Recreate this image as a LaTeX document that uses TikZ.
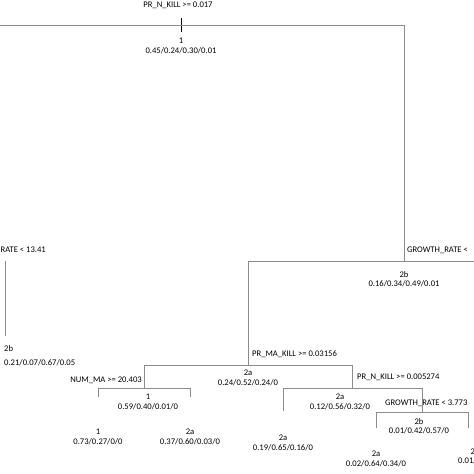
\documentclass[tikz,border=0pt]{standalone}
\usepackage{fontspec}
\setmainfont{Carlito}
\usetikzlibrary{positioning}
\tikzset{
    split/.style = {
        draw=black!45,
        line width=0.9pt
    },
    rule/.style = {
        font=\fontsize{8.6}{9.6}\selectfont,
        inner sep=1pt
    },
    leaf/.style = {
        font=\fontsize{8.6}{9.6}\selectfont,
        align=center,
        inner sep=1pt
    },
}
\begin{document}
\begin{tikzpicture}[x=1pt,y=-1pt]
    \useasboundingbox (0,0) rectangle (474,474);
    \clip (0,0) rectangle (474,474);

    % root
    \node[rule] (rroot) at (178,5) {PR\_N\_KILL >= 0.017};
    \node[leaf] (root) at (181,46) {1\\0.45/0.24/0.30/0.01};
    \coordinate (ttop) at (181,18);
    \coordinate (tbot) at (181,32);
    \coordinate (hl) at (0,25);
    \coordinate (hr) at (404,25);
    \draw[black] (ttop) -- (tbot);
    \draw[split] (hl) -- (hr);

    % left branch
    \node[rule, anchor=east] (rgl) at (47,250) {RATE < 13.41};
    \coordinate (lt) at (5,261);
    \coordinate (lb) at (5,336);
    \node[leaf, anchor=north west] (nl) at (3,344) {2b};
    \node[leaf, anchor=north west] (nlv) at (3,358) {0.21/0.07/0.67/0.05};
    \draw[split] (lt) -- (lb);

    % right branch
    \node[rule, anchor=west] (rgr) at (406,250) {GROWTH\_RATE <};
    \node[leaf] (nr) at (404,279) {2b\\0.16/0.34/0.49/0.01};
    \coordinate (r1) at (248,261);
    \coordinate (r2) at (480,261);
    \coordinate (r3) at (248,365);
    \draw[split] (hr) -- (404,261);
    \draw[split] (r2) -- (r1) -- (r3);

    % PR_MA_KILL split
    \node[rule, anchor=west] (rma) at (251,354) {PR\_MA\_KILL >= 0.03156};
    \node[leaf] (nma) at (248,378) {2a\\0.24/0.52/0.24/0};
    \coordinate (ma1) at (144,365);
    \coordinate (ma2) at (352,365);
    \draw[split] (ma1) -- (ma2);

    % NUM_MA split
    \node[rule, anchor=east] (rnum) at (143,380) {NUM\_MA >= 20.403};
    \node[leaf] (nnum) at (148,402) {1\\0.59/0.40/0.01/0};
    \coordinate (nu1) at (98,388);
    \coordinate (nu2) at (190,388);
    \draw[split] (ma1) -- (144,388);
    \draw[split] (98,397) -- (nu1) -- (nu2) -- (190,397);
    \node[leaf] (l1) at (98,437) {1\\0.73/0.27/0/0};
    \node[leaf] (l2) at (190,437) {2a\\0.37/0.60/0.03/0};

    % PR_N_KILL split
    \node[rule, anchor=west] (rnk) at (356,377) {PR\_N\_KILL >= 0.005274};
    \node[leaf] (nnk) at (340,402) {2a\\0.12/0.56/0.32/0};
    \coordinate (nk1) at (283,388);
    \coordinate (nk2) at (422,388);
    \draw[split] (ma2) -- (352,388);
    \draw[split] (283,411) -- (nk1) -- (nk2);
    \node[leaf] (l3) at (283,443) {2a\\0.19/0.65/0.16/0};

    % GROWTH_RATE split
    \node[rule, anchor=west] (rg2) at (384,403) {GROWTH\_RATE < 3.773};
    \node[leaf] (ng2) at (419,426) {2b\\0.01/0.42/0.57/0};
    \coordinate (g1) at (376,412);
    \coordinate (g2) at (468,412);
    \draw[split] (nk2) -- (422,412);
    \draw[split] (376,428) -- (g1) -- (g2) -- (468,428);
    \node[leaf] (l4) at (376,459) {2a\\0.02/0.64/0.34/0};
    \node[leaf, anchor=north west] (l5) at (457,447) {2b\\0.01/0.21};
\end{tikzpicture}
\end{document}
